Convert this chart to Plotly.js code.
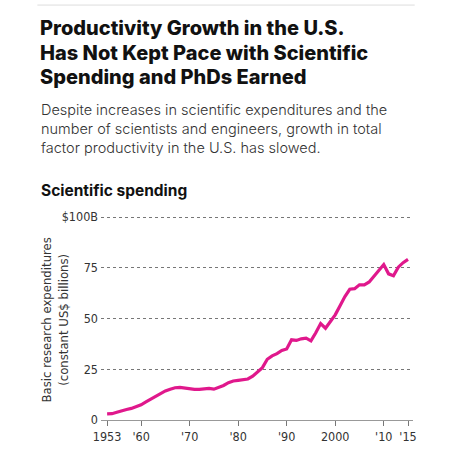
<!DOCTYPE html>
<html>
<head>
<meta charset="utf-8">
<script src="https://cdn.plot.ly/plotly-3.0.1.min.js"></script>
<style>
  html, body { margin: 0; padding: 0; background: #fff; }
  #chart { width: 463px; height: 464px; }
</style>
</head>
<body>
<div id="chart"></div>
<script>
// basic research spending, constant US$ billions
var years = [];
for (var y = 1953; y <= 2015; y++) years.push(y);

var spending = [
    3.0, 3.1, 3.8, 4.6, 5.2, 5.7, 6.6,                 // 1953-59
    7.5, 8.9, 10.3, 11.8, 13.1, 14.3, 15.2, 15.9, 16.1, 15.7,   // 60s
    15.4, 15.1, 15.1, 15.2, 15.6, 15.2, 16.1, 17.0, 18.4, 19.2, // 70s
    19.5, 20.0, 20.2, 21.6, 23.6, 25.8, 29.9, 31.6, 32.7, 34.3, // 80s
    35.0, 39.5, 39.2, 40.0, 40.3, 39.0, 43.0, 47.5, 45.2, 48.5, // 90s
    51.8, 56.3, 60.8, 64.4, 64.7, 66.6, 66.6, 68.0, 70.8, 74.2, // 00s
    76.6, 72.0, 71.1, 75.3, 77.5, 79.1                          // 10s
];

var xTicks = [1953, 1960, 1970, 1980, 1990, 2000, 2010, 2015];
var xTickLabels = ['1953', "'60", "'70", "'80", "'90", '2000', "'10", "'15"];
var yTicks = [0, 25, 50, 75, 100];
var yTickLabels = ['0', '25', '50', '75', '$100B'];

var titleLines = [
    'Productivity Growth in the U.S.',
    'Has Not Kept Pace with Scientific',
    'Spending and PhDs Earned'
];
var subtitle = 'Despite increases in scientific expenditures and the<br>' +
    'number of scientists and engineers, growth in total<br>' +
    'factor productivity in the U.S. has slowed.';
var yTitle = 'Basic research expenditures<br>(constant US$ billions)';

var narrow = '"Liberation Sans Narrow", "DejaVu Sans Condensed", sans-serif';
var textLeft = -0.2;

var trace = {
    x: years,
    y: spending,
    mode: 'lines',
    line: { color: '#e0188c', width: 3.2 },
    hoverinfo: 'skip'
};

// one annotation per title line, the line gap is tighter than plotly's <br>
var titleY = [1.920, 1.801, 1.682];
var annotations = titleLines.map(function (t, i) {
    return {
        text: t,
        xref: 'paper', yref: 'paper',
        x: textLeft, y: titleY[i],
        xanchor: 'left', yanchor: 'middle',
        borderpad: 0,
        showarrow: false,
        font: { family: 'Inter, sans-serif', size: 20, weight: 800, color: '#111' }
    };
});
annotations.push({
    text: subtitle,
    xref: 'paper', yref: 'paper',
    x: textLeft, y: 1.429,
    xanchor: 'left', yanchor: 'middle', align: 'left',
    showarrow: false,
    font: { family: 'Inter, sans-serif', size: 14.5, color: '#333', weight: 300 }
});
annotations.push({
    text: '<b>Scientific spending</b>',
    xref: 'paper', yref: 'paper',
    x: textLeft, y: 1.123,
    xanchor: 'left', yanchor: 'middle',
    showarrow: false,
    font: { family: 'Inter, sans-serif', size: 15.5, color: '#111' }
});
annotations.push({
    text: yTitle,
    xref: 'paper', yref: 'paper',
    x: -0.146, y: 0.49,
    xanchor: 'center', yanchor: 'middle',
    textangle: -90,
    showarrow: false,
    font: { family: narrow, size: 13, color: '#333' }
});

var layout = {
    width: 463,
    height: 464,
    margin: { l: 101, r: 50, t: 216, b: 44, pad: 0 },
    paper_bgcolor: '#fff',
    plot_bgcolor: '#fff',
    showlegend: false,
    xaxis: {
        range: [1951.74, 2016.03],
        tickvals: xTicks,
        ticktext: xTickLabels,
        ticks: 'outside',
        ticklen: 5,
        tickcolor: '#777',
        showgrid: false,
        zeroline: false,
        showline: true,
        linecolor: '#999',
        linewidth: 1,
        tickfont: { family: narrow, size: 12.5, color: '#333' },
        fixedrange: true
    },
    yaxis: {
        range: [0, 100.5],
        tickvals: yTicks,
        ticktext: yTickLabels,
        ticks: '',
        ticklabelstandoff: 2,
        showgrid: true,
        gridcolor: '#777',
        griddash: '3px,3px',
        gridwidth: 1,
        zeroline: false,
        showline: false,
        tickfont: { family: narrow, size: 12.5, color: '#333' },
        fixedrange: true
    },
    shapes: [{
        type: 'line', xref: 'paper', yref: 'paper',
        x0: -0.204, x1: 1.0054, y0: 2.034, y1: 2.034,
        line: { color: '#ddd', width: 1 }
    }],
    annotations: annotations
};

Plotly.newPlot('chart', [trace], layout, { displayModeBar: false, staticPlot: true });
</script>
</body>
</html>
